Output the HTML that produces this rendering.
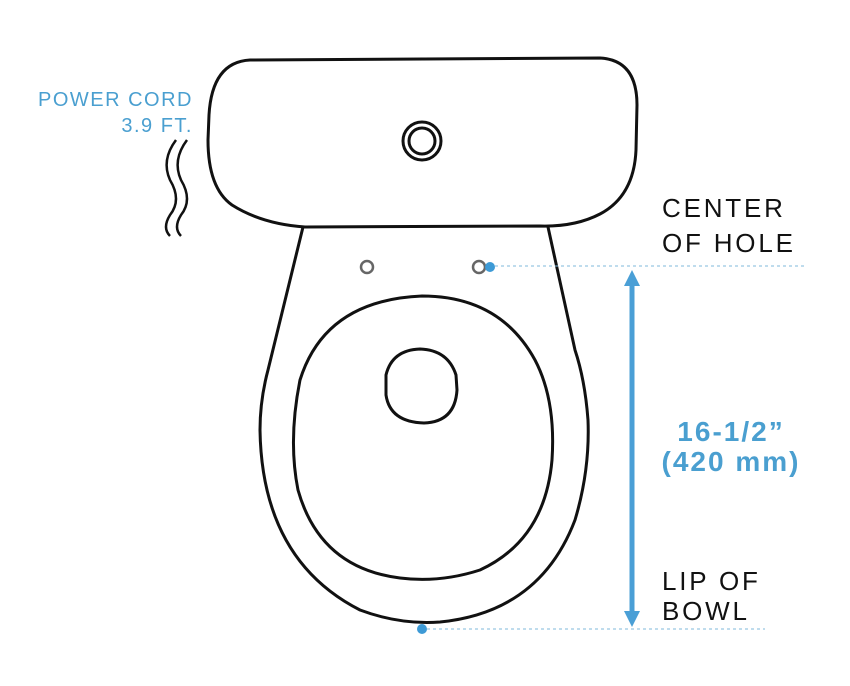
<!DOCTYPE html>
<html><head><meta charset="utf-8"><style>
html,body{margin:0;padding:0;background:#fff;}
svg{display:block;}
text{font-family:"Liberation Sans",sans-serif;}
</style></head><body>
<svg width="850" height="686" viewBox="0 0 850 686" xmlns="http://www.w3.org/2000/svg">
<g fill="none" stroke="#111" stroke-width="3">
<!-- tank -->
<path d="M250 60 L600 58 Q637 60 637 105 L636 150 Q634 196 600 214 Q575 227 540 226 L305 227 Q262 224 232 205 Q208 188 208 140 L209 115 Q212 62 250 60 Z"/>
<!-- bowl -->
<path d="M303 227 L268 370 Q260 400 260 430 Q262 560 360 610 Q400 625 440 622 Q540 612 575 520 Q590 470 588 420 Q585 380 575 350 L548 227"/>
<!-- seat -->
<path d="M422 296 Q500 296 535 360 Q556 400 552 460 Q545 540 480 570 Q440 583 400 578 Q320 568 298 490 Q288 440 300 380 Q325 300 422 296 Z"/>
<!-- hole -->
<path d="M420 349 Q448 350 456 375 L457 390 Q455 422 424 423 Q390 422 386 395 L386 375 Q392 350 420 349 Z"/>
<circle cx="422" cy="141" r="19"/>
<circle cx="422" cy="141" r="13"/>
<path d="M176 140 Q161 160 170 180 Q182 200 170 215 Q162 228 170 236" stroke-width="2.5"/>
<path d="M187 140 Q172 160 181 180 Q193 200 181 215 Q173 228 181 236" stroke-width="2.5"/>
</g>
<circle cx="367" cy="267" r="6" fill="none" stroke="#666" stroke-width="2.5"/>
<circle cx="479" cy="267" r="6" fill="none" stroke="#666" stroke-width="2.5"/>
<circle cx="490" cy="267" r="5" fill="#3d9ad6"/>
<circle cx="422" cy="629" r="5" fill="#3d9ad6"/>
<g stroke="#7fb8db" stroke-width="1" stroke-dasharray="3,3">
<line x1="495" y1="266" x2="805" y2="266"/>
<line x1="427" y1="629" x2="765" y2="629"/>
</g>
<line x1="632" y1="282" x2="632" y2="614" stroke="#4a9fd6" stroke-width="5"/>
<polygon points="632,270 624,286 640,286" fill="#4a9fd6"/>
<polygon points="632,627 624,611 640,611" fill="#4a9fd6"/>
<g fill="#4a9fd0" font-size="20" text-anchor="end" letter-spacing="1.5">
<text x="193" y="106">POWER CORD</text>
<text x="193" y="132">3.9 FT.</text>
</g>
<g fill="#111" font-size="26" letter-spacing="2.8">
<text x="662" y="217">CENTER</text>
<text x="662" y="252">OF HOLE</text>
<text x="662" y="590">LIP OF</text>
<text x="662" y="620">BOWL</text>
</g>
<g fill="#4a9fd0" font-size="28" font-weight="bold" text-anchor="middle" letter-spacing="2">
<text x="731" y="441">16-1/2”</text>
<text x="731" y="471">(420 mm)</text>
</g>
</svg>
</body></html>
